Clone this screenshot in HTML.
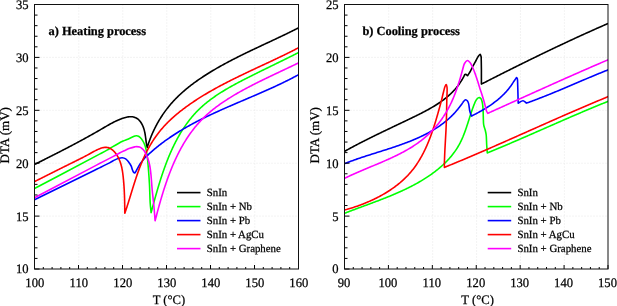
<!DOCTYPE html>
<html><head><meta charset="utf-8"><style>
html,body{margin:0;padding:0;background:#fff;}
svg{display:block;}
.tx{will-change:transform;}
text{font-family:"Liberation Serif",serif;fill:#000;text-rendering:geometricPrecision;stroke:#000;stroke-width:0.25;}
.yl{font-size:13px;text-anchor:end;}
.xl{font-size:13px;text-anchor:middle;}
.al{font-size:13px;text-anchor:middle;}
.tt{font-size:12.4px;font-weight:bold;}
.lt{font-size:11px;}
.cv{fill:none;stroke-width:1.6;stroke-linejoin:round;stroke-linecap:round;}
.lg{fill:none;stroke-width:1.6;}
.tk{fill:none;stroke:#000;stroke-width:1;}
.frame{fill:none;stroke:#111;stroke-width:1;}
.grid{fill:none;stroke:#e2e2e2;stroke-width:0.8;stroke-dasharray:1 2;}
</style></head><body>
<svg width="617" height="306" viewBox="0 0 617 306">
<path d="M78.80,4.50V269.00 M122.80,4.50V269.00 M166.80,4.50V269.00 M210.80,4.50V269.00 M254.80,4.50V269.00 M34.50,216.10H298.50 M34.50,163.20H298.50 M34.50,110.30H298.50 M34.50,57.40H298.50" class="grid"/>
<clipPath id="c34"><rect x="34.50" y="4.50" width="264.00" height="264.50"/></clipPath><g clip-path="url(#c34)">
<path d="M34.50,164.50 L35.33,164.08 L36.16,163.67 L36.99,163.25 L37.82,162.84 L38.65,162.42 L39.48,162.00 L40.31,161.59 L41.14,161.17 L41.97,160.75 L42.81,160.33 L43.63,159.92 L44.46,159.50 L45.29,159.08 L46.12,158.66 L46.95,158.25 L47.78,157.83 L48.61,157.41 L49.44,156.99 L50.27,156.57 L51.10,156.15 L51.93,155.73 L52.75,155.31 L53.58,154.89 L54.41,154.47 L55.24,154.05 L56.06,153.63 L56.89,153.20 L57.72,152.78 L58.54,152.36 L59.37,151.93 L60.20,151.51 L61.02,151.09 L61.85,150.66 L62.67,150.24 L63.49,149.81 L64.32,149.38 L65.14,148.96 L65.97,148.53 L66.79,148.10 L67.61,147.67 L68.43,147.24 L69.26,146.81 L70.08,146.38 L70.90,145.95 L71.72,145.52 L72.54,145.08 L73.36,144.65 L74.18,144.22 L75.00,143.78 L75.82,143.35 L76.64,142.91 L77.45,142.47 L78.27,142.04 L79.09,141.60 L79.91,141.16 L80.72,140.72 L81.54,140.28 L82.35,139.83 L83.17,139.39 L83.98,138.95 L84.79,138.50 L85.61,138.06 L86.42,137.61 L87.23,137.16 L88.04,136.71 L88.85,136.26 L89.66,135.81 L90.47,135.36 L91.28,134.91 L92.09,134.46 L92.89,134.00 L93.70,133.55 L94.51,133.09 L95.31,132.63 L96.12,132.17 L96.92,131.71 L97.73,131.25 L98.53,130.79 L99.33,130.33 L100.13,129.86 L100.93,129.39 L101.73,128.93 L102.53,128.46 L103.33,127.99 L104.13,127.52 L104.93,127.05 L105.73,126.58 L106.54,126.12 L107.34,125.65 L108.15,125.19 L108.96,124.73 L109.78,124.27 L110.60,123.82 L111.42,123.37 L112.25,122.93 L113.09,122.49 L113.93,122.06 L114.78,121.64 L115.64,121.22 L116.51,120.81 L117.38,120.41 L118.26,120.02 L119.16,119.64 L120.06,119.27 L120.97,118.91 L121.88,118.57 L122.80,118.25 L123.72,117.96 L124.64,117.68 L125.55,117.44 L126.46,117.22 L127.37,117.04 L128.26,116.90 L129.15,116.79 L130.02,116.73 L130.88,116.71 L131.73,116.74 L132.55,116.82 L133.36,116.96 L134.14,117.14 L134.90,117.39 L135.64,117.70 L136.35,118.06 L137.03,118.48 L137.69,118.95 L138.33,119.48 L138.93,120.04 L139.51,120.66 L140.07,121.31 L140.60,122.00 L141.10,122.74 L141.57,123.50 L142.02,124.30 L142.44,125.13 L142.83,125.99 L143.20,126.87 L143.53,127.77 L143.84,128.69 L144.12,129.64 L144.37,130.59 L144.60,131.56 L144.81,132.54 L145.00,133.52 L145.17,134.51 L145.33,135.51 L145.47,136.50 L145.61,137.49 L145.73,138.47 L145.86,139.44 L145.98,140.41 L146.10,141.36 L146.23,142.29 L146.36,143.20 L146.50,144.09 L146.66,144.96 L146.82,145.81 L147.00,146.62 L147.20,147.40 L147.21,147.41 L147.50,146.49 L147.79,145.57 L148.09,144.65 L148.40,143.74 L148.71,142.83 L149.03,141.92 L149.36,141.02 L149.69,140.12 L150.03,139.22 L150.37,138.33 L150.73,137.44 L151.08,136.55 L151.45,135.67 L151.82,134.79 L152.19,133.92 L152.57,133.05 L152.96,132.18 L153.36,131.32 L153.76,130.46 L154.17,129.60 L154.58,128.75 L155.00,127.90 L155.43,127.06 L155.86,126.22 L156.30,125.38 L156.74,124.55 L157.19,123.72 L157.65,122.90 L158.11,122.08 L158.58,121.27 L159.06,120.46 L159.54,119.66 L160.03,118.85 L160.52,118.06 L161.02,117.27 L161.52,116.48 L162.04,115.70 L162.55,114.92 L163.08,114.15 L163.61,113.38 L164.14,112.62 L164.68,111.86 L165.23,111.11 L165.78,110.36 L166.34,109.61 L166.91,108.87 L167.48,108.14 L168.05,107.41 L168.63,106.69 L169.22,105.97 L169.82,105.25 L170.41,104.54 L171.02,103.84 L171.63,103.14 L172.25,102.45 L172.87,101.76 L173.49,101.07 L174.13,100.40 L174.76,99.72 L175.41,99.05 L176.05,98.39 L176.71,97.73 L177.36,97.08 L178.03,96.43 L178.69,95.78 L179.37,95.14 L180.04,94.50 L180.73,93.87 L181.41,93.25 L182.10,92.62 L182.80,92.01 L183.50,91.39 L184.20,90.78 L184.91,90.18 L185.62,89.57 L186.33,88.98 L187.05,88.38 L187.78,87.80 L188.50,87.21 L189.24,86.63 L189.97,86.05 L190.71,85.48 L191.45,84.91 L192.19,84.34 L192.94,83.78 L193.69,83.22 L194.45,82.67 L195.21,82.12 L195.97,81.57 L196.73,81.02 L197.50,80.48 L198.27,79.95 L199.04,79.41 L199.81,78.88 L200.59,78.35 L201.37,77.83 L202.15,77.31 L202.94,76.79 L203.73,76.27 L204.51,75.76 L205.31,75.25 L206.10,74.74 L206.89,74.24 L207.69,73.74 L208.49,73.24 L209.29,72.75 L210.09,72.25 L210.90,71.76 L211.70,71.28 L212.51,70.79 L213.32,70.31 L214.13,69.83 L214.94,69.35 L215.76,68.88 L216.57,68.40 L217.39,67.93 L218.21,67.46 L219.03,67.00 L219.85,66.53 L220.67,66.07 L221.49,65.61 L222.32,65.16 L223.15,64.70 L223.97,64.25 L224.80,63.80 L225.63,63.35 L226.46,62.90 L227.30,62.45 L228.13,62.01 L228.96,61.57 L229.80,61.13 L230.64,60.69 L231.47,60.25 L232.31,59.82 L233.15,59.39 L233.99,58.95 L234.83,58.52 L235.68,58.10 L236.52,57.67 L237.36,57.24 L238.21,56.82 L239.05,56.39 L239.90,55.97 L240.75,55.55 L241.59,55.13 L242.44,54.72 L243.29,54.30 L244.14,53.88 L244.99,53.47 L245.84,53.05 L246.69,52.64 L247.55,52.23 L248.40,51.82 L249.25,51.41 L250.10,51.00 L250.96,50.59 L251.81,50.18 L252.66,49.78 L253.52,49.37 L254.37,48.97 L255.23,48.56 L256.08,48.16 L256.94,47.76 L257.79,47.35 L258.65,46.95 L259.50,46.55 L260.36,46.15 L261.21,45.75 L262.07,45.34 L262.93,44.94 L263.78,44.54 L264.64,44.14 L265.49,43.74 L266.35,43.34 L267.20,42.94 L268.06,42.54 L268.91,42.15 L269.77,41.75 L270.62,41.35 L271.48,40.95 L272.33,40.55 L273.18,40.15 L274.04,39.75 L274.89,39.35 L275.74,38.95 L276.59,38.54 L277.44,38.14 L278.30,37.74 L279.15,37.34 L280.00,36.94 L280.84,36.53 L281.69,36.13 L282.54,35.73 L283.39,35.32 L284.23,34.92 L285.08,34.51 L285.93,34.10 L286.77,33.70 L287.61,33.29 L288.46,32.88 L289.30,32.47 L290.14,32.06 L290.98,31.65 L291.82,31.23 L292.66,30.82 L293.49,30.40 L294.33,29.99 L295.16,29.57 L296.00,29.15 L296.83,28.73 L297.66,28.31 L298.49,27.89" stroke="#000" class="cv"/>
<path d="M34.50,188.50 C56.33,176.97 89.25,159.66 100.00,153.90 C103.53,152.01 104.87,151.31 107.00,150.10 C108.82,149.06 110.25,148.12 112.00,147.10 C113.90,145.99 116.07,144.74 118.00,143.70 C119.76,142.75 121.42,141.87 123.10,141.10 C124.68,140.38 126.28,139.85 127.80,139.20 C129.25,138.58 130.72,137.87 132.00,137.30 C133.08,136.82 134.14,136.25 135.00,136.00 C135.60,135.83 136.05,135.73 136.60,135.75 C137.21,135.77 137.91,135.92 138.50,136.20 C139.12,136.49 139.61,136.92 140.20,137.50 C141.02,138.31 142.05,139.59 142.80,140.80 C143.59,142.08 144.25,143.54 144.80,145.00 C145.36,146.48 145.72,147.87 146.10,149.60 C146.58,151.76 146.94,154.18 147.30,157.00 C147.77,160.72 148.14,165.51 148.50,170.00 C148.88,174.82 149.22,179.77 149.50,185.00 C149.80,190.72 149.86,197.94 150.20,203.00 C150.45,206.70 150.80,209.40 151.10,212.60 L151.12,212.60 L151.35,211.74 L151.58,210.87 L151.82,210.00 L152.05,209.14 L152.28,208.26 L152.52,207.39 L152.76,206.52 L152.99,205.65 L153.23,204.77 L153.47,203.89 L153.71,203.02 L153.95,202.14 L154.19,201.26 L154.43,200.38 L154.67,199.49 L154.92,198.61 L155.17,197.73 L155.41,196.84 L155.66,195.96 L155.91,195.08 L156.16,194.19 L156.42,193.30 L156.67,192.42 L156.93,191.53 L157.18,190.64 L157.44,189.76 L157.70,188.87 L157.96,187.98 L158.23,187.09 L158.49,186.20 L158.76,185.32 L159.03,184.43 L159.30,183.54 L159.58,182.65 L159.85,181.77 L160.13,180.88 L160.41,179.99 L160.69,179.11 L160.98,178.22 L161.26,177.34 L161.55,176.45 L161.84,175.57 L162.13,174.69 L162.43,173.80 L162.73,172.92 L163.03,172.04 L163.33,171.16 L163.64,170.28 L163.95,169.41 L164.26,168.53 L164.57,167.65 L164.89,166.78 L165.21,165.91 L165.53,165.03 L165.85,164.16 L166.18,163.30 L166.51,162.43 L166.85,161.56 L167.18,160.70 L167.52,159.84 L167.87,158.97 L168.21,158.12 L168.56,157.26 L168.91,156.40 L169.27,155.55 L169.63,154.70 L169.99,153.85 L170.36,153.00 L170.73,152.16 L171.10,151.31 L171.48,150.47 L171.86,149.63 L172.24,148.80 L172.63,147.96 L173.02,147.13 L173.42,146.31 L173.82,145.48 L174.22,144.66 L174.63,143.84 L175.04,143.02 L175.46,142.20 L175.88,141.39 L176.30,140.58 L176.73,139.78 L177.16,138.97 L177.59,138.17 L178.03,137.38 L178.48,136.58 L178.93,135.79 L179.38,135.00 L179.84,134.22 L180.30,133.44 L180.77,132.66 L181.24,131.89 L181.72,131.12 L182.20,130.36 L182.68,129.59 L183.17,128.84 L183.67,128.08 L184.17,127.33 L184.67,126.58 L185.18,125.84 L185.70,125.10 L186.22,124.37 L186.74,123.64 L187.27,122.91 L187.81,122.19 L188.35,121.47 L188.89,120.76 L189.44,120.05 L190.00,119.35 L190.56,118.65 L191.13,117.95 L191.70,117.26 L192.28,116.58 L192.86,115.89 L193.45,115.22 L194.05,114.55 L194.65,113.88 L195.25,113.22 L195.86,112.56 L196.48,111.91 L197.10,111.27 L197.73,110.63 L198.37,109.99 L199.01,109.36 L199.66,108.74 L200.31,108.12 L200.97,107.50 L201.64,106.90 L202.31,106.29 L202.98,105.69 L203.66,105.10 L204.35,104.51 L205.04,103.93 L205.74,103.35 L206.44,102.78 L207.15,102.21 L207.86,101.64 L208.58,101.08 L209.30,100.53 L210.03,99.97 L210.76,99.43 L211.50,98.88 L212.24,98.35 L212.98,97.81 L213.73,97.28 L214.48,96.76 L215.24,96.23 L216.00,95.71 L216.76,95.20 L217.53,94.69 L218.30,94.18 L219.07,93.68 L219.85,93.18 L220.63,92.68 L221.41,92.19 L222.20,91.70 L222.99,91.21 L223.78,90.73 L224.58,90.25 L225.37,89.77 L226.18,89.29 L226.98,88.82 L227.78,88.35 L228.59,87.89 L229.40,87.42 L230.21,86.96 L231.03,86.51 L231.84,86.05 L232.66,85.60 L233.48,85.15 L234.30,84.70 L235.12,84.25 L235.94,83.81 L236.77,83.36 L237.59,82.92 L238.42,82.48 L239.24,82.05 L240.07,81.61 L240.90,81.18 L241.73,80.75 L242.56,80.32 L243.39,79.89 L244.22,79.46 L245.06,79.04 L245.89,78.61 L246.72,78.19 L247.55,77.77 L248.38,77.35 L249.21,76.93 L250.04,76.51 L250.87,76.09 L251.71,75.68 L252.54,75.26 L253.37,74.85 L254.20,74.43 L255.03,74.02 L255.86,73.61 L256.69,73.20 L257.52,72.79 L258.35,72.38 L259.18,71.97 L260.00,71.56 L260.83,71.15 L261.66,70.75 L262.49,70.34 L263.32,69.93 L264.14,69.53 L264.97,69.12 L265.80,68.72 L266.62,68.32 L267.45,67.91 L268.28,67.51 L269.10,67.11 L269.93,66.71 L270.75,66.30 L271.58,65.90 L272.40,65.50 L273.22,65.10 L274.05,64.70 L274.87,64.30 L275.69,63.90 L276.51,63.50 L277.33,63.09 L278.15,62.69 L278.98,62.29 L279.79,61.89 L280.61,61.49 L281.43,61.09 L282.25,60.69 L283.07,60.29 L283.89,59.89 L284.70,59.49 L285.52,59.08 L286.33,58.68 L287.15,58.28 L287.96,57.88 L288.78,57.47 L289.59,57.07 L290.40,56.66 L291.21,56.26 L292.02,55.85 L292.84,55.45 L293.65,55.04 L294.45,54.64 L295.26,54.23 L296.07,53.82 L296.88,53.41 L297.68,53.00 L298.49,52.59" stroke="#00ff00" class="cv"/>
<path d="M34.50,199.80 C54.53,189.93 85.36,174.70 94.60,170.20 C97.37,168.85 97.93,168.62 100.00,167.60 C102.83,166.21 107.27,164.04 110.00,162.60 C111.93,161.58 113.34,160.65 114.90,159.90 C116.25,159.25 117.52,158.67 118.80,158.30 C119.98,157.96 121.15,157.60 122.30,157.70 C123.45,157.80 124.68,158.24 125.70,158.90 C126.80,159.60 127.72,160.79 128.60,161.90 C129.53,163.07 130.45,164.43 131.10,165.80 C131.74,167.14 132.06,168.87 132.50,170.00 C132.81,170.80 133.06,171.51 133.40,172.00 C133.65,172.36 133.89,172.72 134.20,172.80 C134.50,172.87 134.87,172.76 135.20,172.50 C135.84,172.00 136.43,170.40 137.10,169.20 C137.88,167.80 138.72,165.95 139.60,164.60 C140.36,163.43 141.16,162.59 142.00,161.50 C142.95,160.28 143.94,158.75 145.00,157.60 C145.98,156.54 147.07,155.73 148.10,154.80 L148.09,154.80 L148.78,154.16 L149.47,153.53 L150.17,152.90 L150.86,152.28 L151.56,151.66 L152.26,151.04 L152.97,150.43 L153.67,149.83 L154.38,149.23 L155.10,148.63 L155.81,148.04 L156.53,147.45 L157.25,146.86 L157.97,146.28 L158.70,145.71 L159.42,145.13 L160.15,144.56 L160.89,144.00 L161.62,143.44 L162.36,142.88 L163.10,142.33 L163.84,141.78 L164.58,141.23 L165.33,140.69 L166.08,140.15 L166.83,139.62 L167.58,139.09 L168.34,138.56 L169.09,138.03 L169.85,137.51 L170.62,136.99 L171.38,136.48 L172.14,135.97 L172.91,135.46 L173.68,134.96 L174.45,134.46 L175.23,133.96 L176.00,133.46 L176.78,132.97 L177.56,132.48 L178.34,132.00 L179.12,131.52 L179.91,131.04 L180.70,130.56 L181.49,130.09 L182.28,129.61 L183.07,129.15 L183.86,128.68 L184.66,128.22 L185.45,127.76 L186.25,127.30 L187.05,126.85 L187.86,126.40 L188.66,125.95 L189.46,125.50 L190.27,125.05 L191.08,124.61 L191.89,124.17 L192.70,123.74 L193.51,123.30 L194.33,122.87 L195.14,122.44 L195.96,122.01 L196.78,121.58 L197.60,121.16 L198.42,120.74 L199.24,120.32 L200.06,119.90 L200.89,119.49 L201.71,119.07 L202.54,118.66 L203.37,118.25 L204.19,117.84 L205.02,117.44 L205.86,117.03 L206.69,116.63 L207.52,116.23 L208.36,115.83 L209.19,115.43 L210.03,115.03 L210.86,114.64 L211.70,114.25 L212.54,113.85 L213.38,113.46 L214.22,113.07 L215.06,112.69 L215.90,112.30 L216.75,111.92 L217.59,111.53 L218.44,111.15 L219.28,110.77 L220.13,110.39 L220.97,110.01 L221.82,109.63 L222.67,109.25 L223.52,108.88 L224.37,108.50 L225.21,108.13 L226.06,107.75 L226.92,107.38 L227.77,107.01 L228.62,106.64 L229.47,106.27 L230.32,105.90 L231.17,105.53 L232.03,105.16 L232.88,104.79 L233.73,104.42 L234.59,104.06 L235.44,103.69 L236.30,103.32 L237.15,102.96 L238.00,102.59 L238.86,102.23 L239.71,101.86 L240.57,101.50 L241.42,101.13 L242.28,100.77 L243.13,100.40 L243.99,100.04 L244.85,99.68 L245.70,99.31 L246.56,98.95 L247.41,98.58 L248.27,98.22 L249.12,97.85 L249.98,97.49 L250.83,97.12 L251.68,96.76 L252.54,96.39 L253.39,96.03 L254.25,95.66 L255.10,95.29 L255.95,94.93 L256.81,94.56 L257.66,94.19 L258.51,93.82 L259.36,93.45 L260.21,93.08 L261.06,92.71 L261.91,92.34 L262.76,91.97 L263.61,91.60 L264.46,91.22 L265.31,90.85 L266.16,90.47 L267.00,90.10 L267.85,89.72 L268.70,89.34 L269.54,88.96 L270.39,88.58 L271.23,88.20 L272.07,87.81 L272.91,87.43 L273.76,87.04 L274.60,86.66 L275.44,86.27 L276.27,85.88 L277.11,85.49 L277.95,85.10 L278.78,84.70 L279.62,84.31 L280.45,83.91 L281.29,83.51 L282.12,83.11 L282.95,82.71 L283.78,82.31 L284.61,81.90 L285.44,81.49 L286.26,81.09 L287.09,80.68 L287.91,80.26 L288.73,79.85 L289.56,79.43 L290.38,79.01 L291.19,78.59 L292.01,78.17 L292.83,77.75 L293.64,77.32 L294.46,76.89 L295.27,76.46 L296.08,76.03 L296.89,75.59 L297.70,75.15 L298.50,74.71" stroke="#0000ff" class="cv"/>
<path d="M34.50,181.60 L35.30,181.20 L36.11,180.80 L36.92,180.39 L37.73,179.99 L38.54,179.58 L39.36,179.17 L40.18,178.76 L40.99,178.35 L41.81,177.94 L42.64,177.53 L43.46,177.12 L44.28,176.70 L45.11,176.29 L45.94,175.87 L46.76,175.46 L47.59,175.04 L48.42,174.62 L49.25,174.21 L50.08,173.79 L50.91,173.37 L51.75,172.95 L52.58,172.54 L53.41,172.12 L54.24,171.70 L55.07,171.28 L55.90,170.87 L56.73,170.45 L57.57,170.03 L58.40,169.62 L59.22,169.20 L60.05,168.79 L60.88,168.37 L61.71,167.96 L62.53,167.55 L63.36,167.14 L64.18,166.73 L65.00,166.32 L65.82,165.91 L66.64,165.50 L67.46,165.10 L68.27,164.69 L69.09,164.29 L69.90,163.89 L70.71,163.49 L71.51,163.10 L72.32,162.70 L73.12,162.31 L73.92,161.91 L74.72,161.52 L75.52,161.13 L76.31,160.74 L77.11,160.34 L77.91,159.94 L78.71,159.55 L79.51,159.15 L80.32,158.74 L81.12,158.34 L81.93,157.92 L82.74,157.51 L83.55,157.09 L84.37,156.66 L85.19,156.23 L86.02,155.79 L86.85,155.35 L87.69,154.90 L88.53,154.44 L89.38,153.97 L90.24,153.49 L91.10,153.01 L91.97,152.53 L92.84,152.04 L93.72,151.56 L94.59,151.09 L95.47,150.64 L96.35,150.19 L97.22,149.77 L98.10,149.37 L98.97,148.99 L99.83,148.65 L100.69,148.34 L101.55,148.06 L102.40,147.83 L103.24,147.64 L104.07,147.50 L104.89,147.41 L105.70,147.38 L106.49,147.40 L107.28,147.49 L108.05,147.64 L108.80,147.86 L109.54,148.14 L110.26,148.48 L110.97,148.88 L111.65,149.33 L112.32,149.83 L112.98,150.38 L113.61,150.97 L114.23,151.61 L114.82,152.28 L115.39,152.98 L115.95,153.72 L116.48,154.49 L116.99,155.28 L117.48,156.09 L117.95,156.92 L118.39,157.77 L118.81,158.63 L119.20,159.49 L119.57,160.37 L119.92,161.25 L120.24,162.13 L120.54,163.02 L120.82,163.92 L121.08,164.82 L121.32,165.72 L121.54,166.62 L121.75,167.53 L121.94,168.44 L122.12,169.35 L122.28,170.26 L122.44,171.18 L122.58,172.09 L122.71,173.01 L122.83,173.93 L122.95,174.85 L123.06,175.76 L123.16,176.68 L123.26,177.60 L123.35,178.51 L123.45,179.43 L123.53,180.34 L123.61,181.25 L123.69,182.17 L123.77,183.08 L123.84,183.99 L123.91,184.90 L123.97,185.81 L124.03,186.72 L124.09,187.63 L124.15,188.54 L124.20,189.45 L124.25,190.36 L124.29,191.28 L124.33,192.19 L124.37,193.10 L124.41,194.01 L124.45,194.92 L124.48,195.83 L124.51,196.74 L124.54,197.65 L124.57,198.57 L124.59,199.48 L124.62,200.40 L124.64,201.31 L124.66,202.23 L124.67,203.14 L124.69,204.06 L124.71,204.98 L124.72,205.90 L124.73,206.82 L124.74,207.74 L124.76,208.66 L124.77,209.59 L124.77,210.51 L124.78,211.44 L124.79,212.37 L124.80,213.30 L124.80,213.30 L125.11,212.43 L125.40,211.55 L125.70,210.67 L125.99,209.79 L126.29,208.91 L126.58,208.03 L126.87,207.14 L127.15,206.25 L127.44,205.35 L127.73,204.46 L128.01,203.56 L128.29,202.66 L128.58,201.76 L128.86,200.86 L129.14,199.96 L129.42,199.05 L129.70,198.14 L129.98,197.24 L130.26,196.33 L130.54,195.41 L130.82,194.50 L131.10,193.59 L131.38,192.68 L131.66,191.76 L131.94,190.85 L132.23,189.93 L132.51,189.01 L132.79,188.10 L133.08,187.18 L133.37,186.26 L133.65,185.35 L133.94,184.43 L134.23,183.51 L134.53,182.60 L134.82,181.68 L135.12,180.77 L135.41,179.85 L135.72,178.94 L136.02,178.02 L136.32,177.11 L136.63,176.20 L136.94,175.29 L137.25,174.38 L137.57,173.47 L137.89,172.56 L138.21,171.66 L138.54,170.75 L138.87,169.85 L139.20,168.95 L139.54,168.05 L139.87,167.16 L140.22,166.26 L140.57,165.37 L140.92,164.48 L141.27,163.59 L141.63,162.71 L142.00,161.83 L142.37,160.95 L142.74,160.07 L143.12,159.19 L143.51,158.32 L143.89,157.46 L144.29,156.59 L144.69,155.73 L145.09,154.87 L145.50,154.02 L145.92,153.17 L146.34,152.32 L146.77,151.48 L147.20,150.64 L147.64,149.80 L148.09,148.97 L148.54,148.14 L149.00,147.32 L149.46,146.50 L149.93,145.68 L150.40,144.87 L150.89,144.06 L151.37,143.26 L151.87,142.46 L152.37,141.67 L152.87,140.88 L153.38,140.09 L153.90,139.31 L154.42,138.54 L154.95,137.76 L155.49,137.00 L156.03,136.24 L156.58,135.48 L157.13,134.73 L157.69,133.98 L158.25,133.23 L158.83,132.50 L159.40,131.76 L159.99,131.03 L160.58,130.31 L161.17,129.59 L161.78,128.88 L162.38,128.17 L163.00,127.47 L163.62,126.77 L164.25,126.08 L164.88,125.40 L165.52,124.71 L166.16,124.04 L166.81,123.37 L167.47,122.70 L168.13,122.04 L168.79,121.38 L169.47,120.73 L170.14,120.09 L170.83,119.44 L171.51,118.81 L172.20,118.17 L172.90,117.54 L173.60,116.92 L174.31,116.30 L175.01,115.69 L175.73,115.08 L176.45,114.47 L177.17,113.87 L177.89,113.27 L178.62,112.67 L179.36,112.08 L180.09,111.49 L180.83,110.91 L181.58,110.33 L182.32,109.76 L183.07,109.18 L183.82,108.62 L184.58,108.05 L185.34,107.49 L186.10,106.93 L186.86,106.38 L187.62,105.82 L188.39,105.28 L189.16,104.73 L189.93,104.19 L190.71,103.65 L191.49,103.11 L192.27,102.58 L193.05,102.05 L193.83,101.52 L194.62,101.00 L195.41,100.48 L196.20,99.96 L196.99,99.45 L197.79,98.93 L198.58,98.42 L199.38,97.92 L200.18,97.41 L200.98,96.91 L201.79,96.41 L202.60,95.91 L203.40,95.42 L204.21,94.93 L205.03,94.44 L205.84,93.95 L206.66,93.47 L207.47,92.99 L208.29,92.51 L209.11,92.03 L209.94,91.56 L210.76,91.08 L211.58,90.61 L212.41,90.14 L213.24,89.68 L214.07,89.21 L214.90,88.75 L215.73,88.29 L216.57,87.83 L217.40,87.38 L218.24,86.92 L219.08,86.47 L219.92,86.02 L220.76,85.57 L221.60,85.13 L222.44,84.68 L223.29,84.24 L224.13,83.80 L224.98,83.36 L225.83,82.92 L226.68,82.48 L227.53,82.05 L228.38,81.61 L229.23,81.18 L230.08,80.75 L230.93,80.32 L231.79,79.89 L232.64,79.46 L233.50,79.04 L234.35,78.61 L235.21,78.19 L236.07,77.77 L236.93,77.35 L237.79,76.93 L238.65,76.51 L239.51,76.09 L240.37,75.68 L241.23,75.26 L242.09,74.85 L242.95,74.43 L243.81,74.02 L244.68,73.61 L245.54,73.20 L246.40,72.78 L247.27,72.37 L248.13,71.97 L249.00,71.56 L249.86,71.15 L250.72,70.74 L251.59,70.34 L252.45,69.93 L253.32,69.52 L254.18,69.12 L255.05,68.71 L255.91,68.31 L256.78,67.90 L257.64,67.50 L258.51,67.10 L259.37,66.69 L260.24,66.29 L261.10,65.89 L261.97,65.49 L262.83,65.08 L263.69,64.68 L264.56,64.28 L265.42,63.87 L266.28,63.47 L267.15,63.07 L268.01,62.67 L268.87,62.26 L269.73,61.86 L270.59,61.46 L271.45,61.05 L272.31,60.65 L273.17,60.24 L274.03,59.84 L274.88,59.43 L275.74,59.03 L276.59,58.62 L277.45,58.22 L278.30,57.81 L279.16,57.40 L280.01,56.99 L280.86,56.58 L281.71,56.17 L282.56,55.76 L283.41,55.35 L284.26,54.94 L285.10,54.53 L285.95,54.11 L286.79,53.70 L287.64,53.28 L288.48,52.87 L289.32,52.45 L290.16,52.03 L291.00,51.61 L291.84,51.19 L292.67,50.77 L293.51,50.35 L294.34,49.92 L295.17,49.50 L296.00,49.07 L296.83,48.64 L297.66,48.21 L298.48,47.78" stroke="#ff0000" class="cv"/>
<path d="M34.50,197.80 C52.17,188.50 75.95,175.99 87.50,169.90 C93.11,166.94 96.06,165.36 100.00,163.30 C103.52,161.46 107.24,159.54 110.00,158.10 C111.95,157.08 113.34,156.38 115.00,155.50 C116.67,154.61 118.33,153.64 120.00,152.80 C121.63,151.98 123.26,151.25 124.90,150.50 C126.53,149.75 128.14,148.90 129.80,148.30 C131.41,147.71 133.42,147.18 134.70,146.90 C135.51,146.73 135.97,146.59 136.70,146.60 C137.58,146.61 138.70,146.77 139.60,147.10 C140.50,147.43 141.32,147.95 142.10,148.60 C142.97,149.32 143.84,150.34 144.50,151.30 C145.13,152.21 145.52,153.17 146.00,154.20 C146.52,155.33 147.03,156.59 147.50,157.80 C147.97,159.02 148.41,160.13 148.80,161.50 C149.26,163.14 149.66,164.99 150.00,167.00 C150.41,169.41 150.68,171.91 151.00,175.00 C151.43,179.22 151.73,185.00 152.20,190.00 C152.67,195.00 153.32,199.94 153.80,205.00 C154.29,210.17 154.67,215.47 155.10,220.70 L155.12,220.70 L155.34,219.83 L155.57,218.95 L155.80,218.08 L156.03,217.20 L156.26,216.32 L156.49,215.44 L156.72,214.56 L156.95,213.68 L157.19,212.80 L157.42,211.91 L157.66,211.03 L157.90,210.14 L158.14,209.26 L158.38,208.37 L158.62,207.49 L158.87,206.60 L159.11,205.71 L159.36,204.82 L159.61,203.94 L159.86,203.05 L160.11,202.16 L160.37,201.27 L160.63,200.38 L160.88,199.49 L161.14,198.60 L161.41,197.72 L161.67,196.83 L161.94,195.94 L162.20,195.05 L162.47,194.16 L162.75,193.27 L163.02,192.39 L163.30,191.50 L163.58,190.61 L163.86,189.72 L164.14,188.84 L164.43,187.95 L164.71,187.07 L165.01,186.18 L165.30,185.30 L165.59,184.42 L165.89,183.54 L166.19,182.66 L166.50,181.78 L166.80,180.90 L167.11,180.02 L167.42,179.14 L167.74,178.27 L168.05,177.39 L168.37,176.52 L168.70,175.65 L169.02,174.78 L169.35,173.91 L169.68,173.04 L170.02,172.17 L170.35,171.31 L170.69,170.44 L171.04,169.58 L171.38,168.72 L171.74,167.86 L172.09,167.01 L172.45,166.15 L172.81,165.30 L173.17,164.45 L173.54,163.60 L173.91,162.75 L174.28,161.91 L174.66,161.07 L175.04,160.23 L175.42,159.39 L175.81,158.55 L176.20,157.72 L176.60,156.89 L177.00,156.06 L177.40,155.23 L177.81,154.41 L178.22,153.59 L178.63,152.77 L179.05,151.95 L179.48,151.14 L179.90,150.33 L180.33,149.52 L180.77,148.72 L181.21,147.92 L181.65,147.12 L182.10,146.32 L182.55,145.53 L183.01,144.74 L183.47,143.95 L183.93,143.17 L184.40,142.39 L184.87,141.61 L185.35,140.84 L185.83,140.07 L186.32,139.30 L186.81,138.54 L187.31,137.78 L187.81,137.03 L188.32,136.28 L188.83,135.53 L189.34,134.78 L189.86,134.04 L190.39,133.31 L190.92,132.57 L191.45,131.85 L191.99,131.12 L192.53,130.40 L193.08,129.69 L193.64,128.97 L194.20,128.27 L194.76,127.56 L195.33,126.86 L195.91,126.17 L196.49,125.48 L197.08,124.79 L197.67,124.11 L198.27,123.43 L198.87,122.76 L199.48,122.09 L200.09,121.43 L200.71,120.77 L201.33,120.12 L201.96,119.47 L202.60,118.83 L203.24,118.19 L203.89,117.56 L204.54,116.93 L205.20,116.30 L205.86,115.69 L206.53,115.07 L207.20,114.46 L207.88,113.86 L208.56,113.25 L209.25,112.66 L209.94,112.07 L210.64,111.48 L211.34,110.89 L212.05,110.31 L212.76,109.74 L213.47,109.17 L214.19,108.60 L214.92,108.04 L215.64,107.48 L216.38,106.93 L217.11,106.37 L217.85,105.83 L218.59,105.28 L219.34,104.74 L220.09,104.21 L220.85,103.68 L221.60,103.15 L222.36,102.62 L223.13,102.10 L223.90,101.58 L224.67,101.07 L225.44,100.56 L226.22,100.05 L227.00,99.55 L227.78,99.04 L228.57,98.55 L229.35,98.05 L230.14,97.56 L230.94,97.07 L231.73,96.58 L232.53,96.10 L233.33,95.62 L234.13,95.14 L234.94,94.67 L235.74,94.20 L236.55,93.73 L237.36,93.26 L238.17,92.80 L238.99,92.34 L239.80,91.88 L240.62,91.42 L241.44,90.97 L242.26,90.51 L243.08,90.06 L243.90,89.62 L244.72,89.17 L245.55,88.73 L246.37,88.29 L247.20,87.85 L248.02,87.41 L248.85,86.98 L249.68,86.54 L250.51,86.11 L251.34,85.68 L252.17,85.25 L253.00,84.83 L253.83,84.40 L254.66,83.98 L255.49,83.56 L256.32,83.14 L257.16,82.72 L257.99,82.31 L258.82,81.89 L259.66,81.48 L260.49,81.07 L261.33,80.66 L262.16,80.25 L263.00,79.84 L263.83,79.43 L264.67,79.03 L265.50,78.62 L266.33,78.22 L267.17,77.82 L268.00,77.41 L268.84,77.01 L269.67,76.61 L270.51,76.22 L271.34,75.82 L272.17,75.42 L273.01,75.02 L273.84,74.63 L274.67,74.23 L275.51,73.84 L276.34,73.45 L277.17,73.05 L278.00,72.66 L278.83,72.27 L279.66,71.88 L280.49,71.49 L281.32,71.09 L282.14,70.70 L282.97,70.31 L283.80,69.92 L284.62,69.53 L285.45,69.14 L286.27,68.75 L287.09,68.36 L287.91,67.97 L288.73,67.58 L289.55,67.19 L290.37,66.80 L291.19,66.41 L292.01,66.02 L292.82,65.63 L293.63,65.24 L294.45,64.85 L295.26,64.46 L296.07,64.07 L296.88,63.68 L297.68,63.28 L298.49,62.89" stroke="#ff00ff" class="cv"/>
</g>
<path d="M43.30,269.00v-2 M52.10,269.00v-2 M60.90,269.00v-2 M69.70,269.00v-2 M87.30,269.00v-2 M96.10,269.00v-2 M104.90,269.00v-2 M113.70,269.00v-2 M131.30,269.00v-2 M140.10,269.00v-2 M148.90,269.00v-2 M157.70,269.00v-2 M175.30,269.00v-2 M184.10,269.00v-2 M192.90,269.00v-2 M201.70,269.00v-2 M219.30,269.00v-2 M228.10,269.00v-2 M236.90,269.00v-2 M245.70,269.00v-2 M263.30,269.00v-2 M272.10,269.00v-2 M280.90,269.00v-2 M289.70,269.00v-2 M34.50,269.00v-4 M78.50,269.00v-4 M122.50,269.00v-4 M166.50,269.00v-4 M210.50,269.00v-4 M254.50,269.00v-4 M298.50,269.00v-4 M34.50,258.42h3 M34.50,247.84h3 M34.50,237.26h3 M34.50,226.68h3 M34.50,205.52h3 M34.50,194.94h3 M34.50,184.36h3 M34.50,173.78h3 M34.50,152.62h3 M34.50,142.04h3 M34.50,131.46h3 M34.50,120.88h3 M34.50,99.72h3 M34.50,89.14h3 M34.50,78.56h3 M34.50,67.98h3 M34.50,46.82h3 M34.50,36.24h3 M34.50,25.66h3 M34.50,15.08h3 M34.50,269.00h5 M34.50,216.10h5 M34.50,163.20h5 M34.50,110.30h5 M34.50,57.40h5 M34.50,4.50h5" class="tk"/>
<rect x="34.50" y="4.50" width="264.00" height="264.50" class="frame"/>
<path d="M177.00,192.60H200.50" stroke="#000" class="lg"/>
<path d="M177.00,206.60H200.50" stroke="#00ff00" class="lg"/>
<path d="M177.00,220.60H200.50" stroke="#0000ff" class="lg"/>
<path d="M177.00,234.60H200.50" stroke="#ff0000" class="lg"/>
<path d="M177.00,248.60H200.50" stroke="#ff00ff" class="lg"/>
<g class="tx"><text transform="translate(28.60,273.40) scale(0.970,1)" class="yl">10</text>
<text transform="translate(28.60,220.50) scale(0.970,1)" class="yl">15</text>
<text transform="translate(28.60,167.60) scale(0.970,1)" class="yl">20</text>
<text transform="translate(28.60,114.70) scale(0.970,1)" class="yl">25</text>
<text transform="translate(28.60,61.80) scale(0.970,1)" class="yl">30</text>
<text transform="translate(28.60,8.90) scale(0.970,1)" class="yl">35</text>
<text transform="translate(34.80,286.70) scale(0.970,1)" class="xl">100</text>
<text transform="translate(78.80,286.70) scale(0.970,1)" class="xl">110</text>
<text transform="translate(122.80,286.70) scale(0.970,1)" class="xl">120</text>
<text transform="translate(166.80,286.70) scale(0.970,1)" class="xl">130</text>
<text transform="translate(210.80,286.70) scale(0.970,1)" class="xl">140</text>
<text transform="translate(254.80,286.70) scale(0.970,1)" class="xl">150</text>
<text transform="translate(298.80,286.70) scale(0.970,1)" class="xl">160</text>
<text x="48.50" y="34.80" class="tt">a) Heating process</text>
<text transform="translate(168.90,303.80) scale(0.970,1)" class="xl">T (°C)</text>
<text transform="translate(8.50,135.30) rotate(-90)" class="al">DTA (mV)</text>
<text transform="translate(206.70,196.20) scale(0.985,1)" class="lt">SnIn</text>
<text transform="translate(206.70,210.20) scale(0.985,1)" class="lt">SnIn + Nb</text>
<text transform="translate(206.70,224.20) scale(0.985,1)" class="lt">SnIn + Pb</text>
<text transform="translate(206.70,238.20) scale(0.985,1)" class="lt">SnIn + AgCu</text>
<text transform="translate(206.70,252.20) scale(0.985,1)" class="lt">SnIn + Graphene</text></g>
<path d="M388.72,4.50V269.00 M432.63,4.50V269.00 M476.55,4.50V269.00 M520.47,4.50V269.00 M564.38,4.50V269.00 M344.50,216.10H608.00 M344.50,163.20H608.00 M344.50,110.30H608.00 M344.50,57.40H608.00" class="grid"/>
<clipPath id="c344"><rect x="344.50" y="4.50" width="263.50" height="264.50"/></clipPath><g clip-path="url(#c344)">
<path d="M344.51,151.41 L345.31,150.95 L346.12,150.50 L346.93,150.05 L347.74,149.60 L348.55,149.15 L349.36,148.71 L350.18,148.26 L350.99,147.82 L351.81,147.38 L352.62,146.94 L353.44,146.50 L354.26,146.07 L355.08,145.63 L355.90,145.20 L356.72,144.77 L357.54,144.33 L358.36,143.91 L359.19,143.48 L360.01,143.05 L360.83,142.62 L361.66,142.20 L362.49,141.78 L363.31,141.35 L364.14,140.93 L364.97,140.51 L365.80,140.09 L366.63,139.68 L367.46,139.26 L368.29,138.84 L369.13,138.43 L369.96,138.01 L370.79,137.60 L371.63,137.19 L372.46,136.77 L373.30,136.36 L374.13,135.95 L374.97,135.54 L375.81,135.13 L376.64,134.73 L377.48,134.32 L378.32,133.91 L379.16,133.50 L380.00,133.10 L380.84,132.69 L381.68,132.29 L382.52,131.88 L383.36,131.48 L384.20,131.08 L385.04,130.67 L385.89,130.27 L386.73,129.87 L387.57,129.46 L388.41,129.06 L389.26,128.66 L390.10,128.26 L390.95,127.85 L391.79,127.45 L392.63,127.05 L393.48,126.65 L394.32,126.25 L395.17,125.84 L396.01,125.44 L396.86,125.04 L397.71,124.64 L398.55,124.23 L399.40,123.83 L400.24,123.43 L401.09,123.03 L401.94,122.62 L402.78,122.22 L403.63,121.81 L404.47,121.41 L405.32,121.01 L406.17,120.60 L407.01,120.19 L407.86,119.79 L408.70,119.38 L409.55,118.97 L410.40,118.57 L411.24,118.16 L412.09,117.75 L412.93,117.34 L413.78,116.93 L414.62,116.52 L415.47,116.10 L416.31,115.69 L417.15,115.27 L417.99,114.86 L418.83,114.44 L419.67,114.02 L420.51,113.59 L421.35,113.17 L422.18,112.74 L423.01,112.31 L423.85,111.88 L424.67,111.45 L425.50,111.01 L426.32,110.57 L427.14,110.12 L427.96,109.68 L428.78,109.23 L429.59,108.77 L430.40,108.31 L431.20,107.85 L432.00,107.38 L432.80,106.91 L433.60,106.44 L434.39,105.96 L435.17,105.48 L435.96,104.99 L436.73,104.49 L437.51,103.99 L438.27,103.49 L439.04,102.98 L439.80,102.47 L440.55,101.94 L441.30,101.42 L442.04,100.88 L442.78,100.35 L443.51,99.80 L444.23,99.25 L444.95,98.69 L445.66,98.12 L446.37,97.55 L447.07,96.97 L447.76,96.39 L448.45,95.79 L449.13,95.19 L449.80,94.58 L450.46,93.97 L451.12,93.34 L451.77,92.71 L452.41,92.07 L453.05,91.42 L453.67,90.76 L454.29,90.09 L454.90,89.42 L455.50,88.73 L456.10,88.04 L456.68,87.34 L457.26,86.63 L457.82,85.90 L458.38,85.17 L458.93,84.43 L459.47,83.68 L459.99,82.92 L460.51,82.15 L461.02,81.36 L461.52,80.57 L462.01,79.77 L462.49,78.95 L462.95,78.12 L463.41,77.29 L463.86,76.44 L464.29,75.58 L464.71,74.71 L464.70,74.70 C465.03,74.53 465.33,74.16 465.70,74.20 C466.25,74.26 466.97,75.20 467.60,75.70 L467.60,75.70 C468.60,74.07 469.69,72.44 470.60,70.80 C471.48,69.21 472.14,67.65 473.00,66.00 C473.93,64.22 475.04,62.24 476.00,60.50 C476.87,58.92 477.67,57.10 478.50,56.00 C479.07,55.25 479.76,54.20 480.20,54.30 C480.68,54.41 480.87,56.10 481.20,57.00 L481.20,57.00 C481.27,61.33 481.37,65.58 481.40,70.00 C481.44,74.60 481.40,79.40 481.40,84.10 L481.40,84.10 L482.26,83.66 L483.11,83.22 L483.97,82.78 L484.83,82.34 L485.69,81.91 L486.55,81.47 L487.41,81.03 L488.27,80.60 L489.13,80.16 L489.99,79.72 L490.84,79.29 L491.70,78.85 L492.56,78.41 L493.42,77.98 L494.28,77.54 L495.14,77.11 L496.00,76.67 L496.87,76.24 L497.73,75.80 L498.59,75.37 L499.45,74.93 L500.31,74.50 L501.17,74.07 L502.03,73.63 L502.89,73.20 L503.75,72.77 L504.62,72.33 L505.48,71.90 L506.34,71.47 L507.20,71.04 L508.07,70.60 L508.93,70.17 L509.79,69.74 L510.65,69.31 L511.52,68.88 L512.38,68.45 L513.24,68.02 L514.11,67.59 L514.97,67.16 L515.83,66.73 L516.70,66.30 L517.56,65.87 L518.43,65.44 L519.29,65.01 L520.16,64.58 L521.02,64.16 L521.89,63.73 L522.75,63.30 L523.62,62.87 L524.48,62.45 L525.35,62.02 L526.21,61.60 L527.08,61.17 L527.95,60.74 L528.81,60.32 L529.68,59.89 L530.55,59.47 L531.41,59.05 L532.28,58.62 L533.15,58.20 L534.02,57.77 L534.88,57.35 L535.75,56.93 L536.62,56.51 L537.49,56.08 L538.36,55.66 L539.22,55.24 L540.09,54.82 L540.96,54.40 L541.83,53.98 L542.70,53.56 L543.57,53.14 L544.44,52.72 L545.31,52.30 L546.18,51.89 L547.05,51.47 L547.92,51.05 L548.79,50.63 L549.66,50.22 L550.53,49.80 L551.41,49.38 L552.28,48.97 L553.15,48.55 L554.02,48.14 L554.89,47.72 L555.76,47.31 L556.64,46.89 L557.51,46.48 L558.38,46.07 L559.26,45.66 L560.13,45.24 L561.00,44.83 L561.88,44.42 L562.75,44.01 L563.62,43.60 L564.50,43.19 L565.37,42.78 L566.25,42.37 L567.12,41.96 L568.00,41.56 L568.87,41.15 L569.75,40.74 L570.63,40.33 L571.50,39.93 L572.38,39.52 L573.25,39.12 L574.13,38.71 L575.01,38.31 L575.88,37.90 L576.76,37.50 L577.64,37.09 L578.52,36.69 L579.40,36.29 L580.27,35.89 L581.15,35.49 L582.03,35.09 L582.91,34.69 L583.79,34.29 L584.67,33.89 L585.55,33.49 L586.43,33.09 L587.31,32.69 L588.19,32.29 L589.07,31.90 L589.95,31.50 L590.83,31.11 L591.71,30.71 L592.59,30.32 L593.48,29.92 L594.36,29.53 L595.24,29.13 L596.12,28.74 L597.00,28.35 L597.89,27.96 L598.77,27.57 L599.65,27.18 L600.54,26.79 L601.42,26.40 L602.31,26.01 L603.19,25.62 L604.07,25.23 L604.96,24.85 L605.84,24.46 L606.73,24.07 L607.62,23.69 L608.50,23.30" stroke="#000" class="cv"/>
<path d="M344.51,213.31 L345.35,212.98 L346.20,212.65 L347.05,212.32 L347.90,211.99 L348.76,211.67 L349.61,211.34 L350.47,211.02 L351.33,210.69 L352.19,210.37 L353.05,210.04 L353.91,209.72 L354.77,209.40 L355.64,209.08 L356.50,208.76 L357.37,208.43 L358.24,208.11 L359.11,207.79 L359.98,207.47 L360.85,207.15 L361.72,206.83 L362.59,206.51 L363.46,206.18 L364.34,205.86 L365.21,205.54 L366.09,205.22 L366.96,204.89 L367.84,204.57 L368.71,204.25 L369.59,203.92 L370.47,203.60 L371.34,203.27 L372.22,202.94 L373.10,202.61 L373.98,202.29 L374.85,201.96 L375.73,201.62 L376.61,201.29 L377.49,200.96 L378.36,200.63 L379.24,200.29 L380.12,199.95 L380.99,199.62 L381.87,199.28 L382.74,198.93 L383.62,198.59 L384.49,198.25 L385.37,197.90 L386.24,197.55 L387.11,197.20 L387.98,196.85 L388.85,196.50 L389.72,196.14 L390.59,195.79 L391.46,195.43 L392.33,195.07 L393.19,194.70 L394.06,194.34 L394.92,193.97 L395.78,193.60 L396.64,193.22 L397.50,192.85 L398.36,192.47 L399.22,192.09 L400.07,191.71 L400.93,191.32 L401.78,190.93 L402.63,190.54 L403.48,190.14 L404.32,189.75 L405.17,189.35 L406.01,188.94 L406.85,188.54 L407.69,188.13 L408.53,187.71 L409.36,187.30 L410.19,186.87 L411.02,186.45 L411.85,186.02 L412.68,185.59 L413.50,185.16 L414.32,184.72 L415.14,184.28 L415.96,183.83 L416.77,183.38 L417.58,182.93 L418.39,182.47 L419.19,182.01 L420.00,181.55 L420.79,181.08 L421.59,180.60 L422.38,180.13 L423.18,179.64 L423.96,179.16 L424.75,178.67 L425.53,178.17 L426.31,177.67 L427.08,177.16 L427.85,176.66 L428.62,176.14 L429.38,175.62 L430.14,175.10 L430.90,174.57 L431.65,174.04 L432.40,173.50 L433.15,172.95 L433.89,172.40 L434.63,171.85 L435.36,171.29 L436.09,170.73 L436.81,170.16 L437.53,169.58 L438.24,169.00 L438.95,168.41 L439.65,167.82 L440.35,167.23 L441.04,166.62 L441.73,166.01 L442.41,165.40 L443.09,164.78 L443.75,164.15 L444.42,163.52 L445.07,162.89 L445.72,162.24 L446.37,161.59 L447.00,160.94 L447.63,160.28 L448.25,159.61 L448.87,158.94 L449.48,158.26 L450.08,157.57 L450.67,156.88 L451.26,156.18 L451.84,155.47 L452.40,154.76 L452.97,154.04 L453.52,153.32 L454.06,152.59 L454.60,151.85 L455.13,151.11 L455.65,150.35 L456.16,149.60 L456.66,148.83 L457.15,148.06 L457.64,147.28 L458.11,146.49 L458.57,145.70 L459.03,144.90 L459.47,144.09 L459.90,143.28 L460.33,142.46 L460.74,141.63 L461.15,140.79 L461.54,139.95 L461.93,139.10 L462.31,138.25 L462.68,137.39 L463.05,136.53 L463.40,135.66 L463.75,134.79 L464.09,133.91 L464.43,133.03 L464.76,132.14 L465.09,131.25 L465.41,130.36 L465.72,129.47 L466.03,128.57 L466.34,127.67 L466.64,126.77 L466.94,125.87 L467.24,124.96 L467.54,124.06 L467.83,123.15 L468.12,122.25 L468.41,121.34 L468.70,120.44 L468.99,119.53 L469.27,118.63 L469.56,117.73 L469.85,116.83 L470.14,115.93 L470.42,115.03 L470.72,114.13 L471.01,113.24 L471.30,112.35 L471.60,111.47 L471.90,110.58 L472.20,109.70 L472.51,108.83 L472.82,107.96 L473.14,107.10 L473.46,106.24 L473.78,105.38 L474.11,104.53 L474.45,103.69 L474.79,102.85 L475.14,102.02 L475.50,101.20 L475.50,101.20 C476.00,100.47 476.49,99.58 477.00,99.00 C477.40,98.54 477.78,98.13 478.20,97.90 C478.55,97.71 478.93,97.58 479.30,97.60 C479.70,97.63 480.15,97.79 480.50,98.10 C480.95,98.50 481.29,99.25 481.60,100.00 C482.00,100.97 482.26,102.14 482.50,103.50 C482.82,105.32 482.97,107.79 483.10,110.00 C483.24,112.29 483.20,114.60 483.30,117.00 C483.40,119.53 483.31,122.48 483.70,124.80 C484.02,126.73 484.78,128.27 485.20,130.00 C485.61,131.67 485.96,133.04 486.20,135.00 C486.54,137.75 486.50,141.86 486.70,145.00 C486.88,147.79 487.10,150.27 487.30,152.90 L487.30,152.90 L488.20,152.53 L489.11,152.16 L490.01,151.79 L490.91,151.42 L491.82,151.05 L492.72,150.68 L493.62,150.31 L494.52,149.94 L495.42,149.56 L496.33,149.19 L497.23,148.81 L498.13,148.44 L499.03,148.06 L499.93,147.69 L500.83,147.31 L501.73,146.93 L502.63,146.55 L503.53,146.17 L504.43,145.79 L505.33,145.41 L506.22,145.03 L507.12,144.65 L508.02,144.27 L508.92,143.89 L509.82,143.51 L510.71,143.12 L511.61,142.74 L512.51,142.35 L513.41,141.97 L514.30,141.59 L515.20,141.20 L516.10,140.81 L516.99,140.43 L517.89,140.04 L518.78,139.65 L519.68,139.27 L520.58,138.88 L521.47,138.49 L522.37,138.10 L523.26,137.71 L524.16,137.32 L525.05,136.93 L525.95,136.54 L526.84,136.15 L527.74,135.76 L528.63,135.37 L529.53,134.98 L530.42,134.59 L531.32,134.20 L532.21,133.81 L533.10,133.42 L534.00,133.03 L534.89,132.64 L535.79,132.24 L536.68,131.85 L537.57,131.46 L538.47,131.07 L539.36,130.68 L540.26,130.28 L541.15,129.89 L542.04,129.50 L542.94,129.11 L543.83,128.71 L544.72,128.32 L545.62,127.93 L546.51,127.54 L547.41,127.14 L548.30,126.75 L549.19,126.36 L550.09,125.97 L550.98,125.57 L551.88,125.18 L552.77,124.79 L553.66,124.40 L554.56,124.01 L555.45,123.61 L556.35,123.22 L557.24,122.83 L558.13,122.44 L559.03,122.05 L559.92,121.66 L560.82,121.27 L561.71,120.88 L562.61,120.49 L563.50,120.10 L564.40,119.71 L565.29,119.32 L566.19,118.93 L567.08,118.54 L567.98,118.15 L568.87,117.76 L569.77,117.38 L570.67,116.99 L571.56,116.60 L572.46,116.21 L573.35,115.83 L574.25,115.44 L575.15,115.06 L576.05,114.67 L576.94,114.29 L577.84,113.90 L578.74,113.52 L579.63,113.14 L580.53,112.75 L581.43,112.37 L582.33,111.99 L583.23,111.61 L584.13,111.23 L585.03,110.85 L585.92,110.47 L586.82,110.09 L587.72,109.71 L588.62,109.33 L589.52,108.96 L590.43,108.58 L591.33,108.20 L592.23,107.83 L593.13,107.45 L594.03,107.08 L594.93,106.71 L595.83,106.33 L596.74,105.96 L597.64,105.59 L598.54,105.22 L599.45,104.85 L600.35,104.48 L601.25,104.11 L602.16,103.75 L603.06,103.38 L603.97,103.01 L604.87,102.65 L605.78,102.29 L606.69,101.92 L607.59,101.56 L608.50,101.20" stroke="#00ff00" class="cv"/>
<path d="M344.51,163.71 L345.37,163.37 L346.23,163.02 L347.09,162.68 L347.96,162.35 L348.82,162.01 L349.69,161.68 L350.57,161.36 L351.45,161.03 L352.32,160.71 L353.21,160.39 L354.09,160.07 L354.98,159.75 L355.87,159.44 L356.76,159.13 L357.65,158.82 L358.55,158.51 L359.44,158.21 L360.34,157.90 L361.24,157.60 L362.15,157.30 L363.05,157.00 L363.96,156.70 L364.87,156.40 L365.77,156.11 L366.69,155.81 L367.60,155.52 L368.51,155.22 L369.42,154.93 L370.34,154.64 L371.26,154.35 L372.17,154.05 L373.09,153.76 L374.01,153.47 L374.93,153.18 L375.85,152.89 L376.77,152.60 L377.69,152.31 L378.62,152.02 L379.54,151.73 L380.46,151.44 L381.38,151.15 L382.31,150.86 L383.23,150.56 L384.15,150.27 L385.08,149.98 L386.00,149.68 L386.92,149.39 L387.84,149.09 L388.77,148.79 L389.69,148.49 L390.61,148.19 L391.53,147.89 L392.45,147.58 L393.37,147.28 L394.28,146.97 L395.20,146.66 L396.12,146.35 L397.03,146.04 L397.94,145.72 L398.86,145.40 L399.77,145.08 L400.68,144.76 L401.59,144.44 L402.49,144.11 L403.40,143.78 L404.30,143.45 L405.20,143.11 L406.10,142.78 L407.00,142.43 L407.90,142.09 L408.79,141.74 L409.68,141.39 L410.57,141.04 L411.46,140.68 L412.35,140.32 L413.23,139.95 L414.11,139.58 L414.99,139.21 L415.86,138.83 L416.74,138.45 L417.61,138.07 L418.47,137.68 L419.34,137.29 L420.20,136.89 L421.05,136.49 L421.91,136.08 L422.76,135.67 L423.61,135.25 L424.45,134.83 L425.29,134.41 L426.13,133.97 L426.97,133.54 L427.80,133.10 L428.62,132.65 L429.45,132.20 L430.26,131.74 L431.08,131.28 L431.89,130.81 L432.70,130.33 L433.50,129.85 L434.30,129.37 L435.09,128.87 L435.88,128.38 L436.67,127.87 L437.45,127.36 L438.22,126.84 L438.99,126.32 L439.76,125.79 L440.52,125.25 L441.28,124.70 L442.03,124.15 L442.77,123.60 L443.52,123.03 L444.25,122.46 L444.98,121.88 L445.71,121.29 L446.43,120.70 L447.14,120.10 L447.85,119.49 L448.55,118.87 L449.25,118.24 L449.94,117.61 L450.62,116.97 L451.30,116.32 L451.98,115.66 L452.64,115.00 L453.30,114.32 L453.96,113.64 L454.61,112.95 L455.25,112.25 L455.88,111.54 L456.51,110.83 L457.13,110.10 L457.75,109.37 L458.35,108.62 L458.96,107.87 L459.55,107.11 L460.14,106.33 L460.72,105.55 L461.29,104.76 L461.86,103.96 L462.41,103.15 L462.97,102.33 L463.51,101.50 L463.50,101.50 C464.23,100.90 465.00,99.72 465.70,99.70 C466.32,99.68 467.03,100.41 467.50,101.00 C468.03,101.67 468.28,102.49 468.60,103.60 C469.12,105.41 469.27,108.78 469.80,111.00 C470.24,112.88 470.87,114.40 471.40,116.10 L471.40,116.10 L472.19,115.70 L472.98,115.31 L473.77,114.90 L474.56,114.50 L475.34,114.09 L476.13,113.68 L476.92,113.26 L477.70,112.85 L478.48,112.42 L479.26,112.00 L480.04,111.57 L480.81,111.13 L481.59,110.69 L482.36,110.25 L483.13,109.80 L483.89,109.35 L484.66,108.89 L485.42,108.43 L486.17,107.96 L486.93,107.49 L487.68,107.02 L488.42,106.53 L489.16,106.05 L489.90,105.55 L490.64,105.06 L491.37,104.55 L492.09,104.04 L492.81,103.53 L493.53,103.01 L494.24,102.48 L494.95,101.95 L495.65,101.41 L496.35,100.87 L497.04,100.32 L497.72,99.76 L498.40,99.20 L499.07,98.62 L499.74,98.05 L500.40,97.46 L501.05,96.87 L501.70,96.27 L502.34,95.67 L502.98,95.05 L503.60,94.43 L504.22,93.81 L504.83,93.17 L505.44,92.53 L506.04,91.88 L506.62,91.22 L507.21,90.55 L507.78,89.88 L508.34,89.20 L508.90,88.51 L509.45,87.81 L509.99,87.10 L510.52,86.38 L511.04,85.66 L511.55,84.92 L512.05,84.18 L512.54,83.43 L513.03,82.67 L513.50,81.90 L513.50,81.90 C514.27,80.80 515.23,79.40 515.80,78.60 C516.13,78.13 516.34,77.50 516.60,77.50 C516.84,77.50 517.12,77.98 517.30,78.50 C517.72,79.69 517.60,82.79 517.70,85.00 C517.80,87.29 517.83,89.39 517.90,92.00 C517.99,95.30 518.10,99.47 518.20,103.20 L518.20,103.20 C519.80,102.37 521.55,100.61 523.00,100.70 C524.28,100.78 525.33,102.30 526.50,103.10 L526.50,103.10 L527.40,102.78 L528.29,102.46 L529.19,102.13 L530.09,101.81 L530.98,101.48 L531.87,101.15 L532.77,100.82 L533.66,100.49 L534.55,100.16 L535.44,99.82 L536.33,99.48 L537.22,99.15 L538.11,98.81 L539.00,98.46 L539.89,98.12 L540.78,97.78 L541.67,97.43 L542.55,97.08 L543.44,96.73 L544.32,96.38 L545.21,96.03 L546.09,95.68 L546.98,95.33 L547.86,94.97 L548.74,94.62 L549.62,94.26 L550.51,93.90 L551.39,93.54 L552.27,93.18 L553.15,92.82 L554.03,92.46 L554.91,92.10 L555.79,91.73 L556.67,91.37 L557.55,91.00 L558.43,90.64 L559.31,90.27 L560.19,89.90 L561.06,89.53 L561.94,89.16 L562.82,88.80 L563.70,88.43 L564.57,88.06 L565.45,87.68 L566.33,87.31 L567.20,86.94 L568.08,86.57 L568.96,86.20 L569.83,85.83 L570.71,85.45 L571.59,85.08 L572.46,84.71 L573.34,84.33 L574.21,83.96 L575.09,83.59 L575.97,83.21 L576.84,82.84 L577.72,82.47 L578.59,82.09 L579.47,81.72 L580.35,81.35 L581.22,80.98 L582.10,80.60 L582.97,80.23 L583.85,79.86 L584.73,79.49 L585.60,79.12 L586.48,78.74 L587.36,78.37 L588.24,78.00 L589.11,77.63 L589.99,77.26 L590.87,76.90 L591.75,76.53 L592.63,76.16 L593.50,75.79 L594.38,75.43 L595.26,75.06 L596.14,74.70 L597.02,74.34 L597.90,73.97 L598.78,73.61 L599.66,73.25 L600.55,72.89 L601.43,72.53 L602.31,72.17 L603.19,71.82 L604.08,71.46 L604.96,71.11 L605.84,70.75 L606.73,70.40 L607.61,70.05 L608.50,69.70" stroke="#0000ff" class="cv"/>
<path d="M344.49,210.09 L345.39,209.84 L346.28,209.58 L347.18,209.33 L348.07,209.06 L348.97,208.80 L349.86,208.53 L350.76,208.25 L351.65,207.97 L352.55,207.68 L353.44,207.39 L354.33,207.10 L355.22,206.80 L356.12,206.50 L357.01,206.19 L357.89,205.88 L358.78,205.56 L359.67,205.24 L360.55,204.91 L361.43,204.58 L362.32,204.24 L363.20,203.90 L364.07,203.55 L364.95,203.20 L365.82,202.84 L366.70,202.48 L367.57,202.11 L368.44,201.74 L369.30,201.36 L370.16,200.98 L371.03,200.60 L371.88,200.20 L372.74,199.81 L373.59,199.41 L374.44,199.00 L375.29,198.59 L376.13,198.17 L376.97,197.74 L377.81,197.32 L378.65,196.88 L379.48,196.44 L380.30,196.00 L381.13,195.55 L381.95,195.09 L382.76,194.63 L383.58,194.17 L384.38,193.70 L385.19,193.22 L385.99,192.74 L386.79,192.25 L387.58,191.76 L388.36,191.26 L389.15,190.75 L389.93,190.24 L390.70,189.73 L391.47,189.21 L392.23,188.68 L392.99,188.14 L393.74,187.61 L394.49,187.06 L395.24,186.51 L395.97,185.96 L396.71,185.39 L397.43,184.83 L398.16,184.25 L398.87,183.67 L399.58,183.09 L400.28,182.49 L400.98,181.90 L401.68,181.29 L402.36,180.68 L403.04,180.07 L403.71,179.45 L404.38,178.82 L405.04,178.19 L405.69,177.55 L406.34,176.90 L406.98,176.25 L407.62,175.59 L408.24,174.92 L408.86,174.25 L409.47,173.57 L410.08,172.89 L410.68,172.20 L411.27,171.50 L411.85,170.80 L412.42,170.09 L412.99,169.38 L413.55,168.65 L414.10,167.93 L414.65,167.19 L415.18,166.45 L415.71,165.71 L416.24,164.95 L416.75,164.20 L417.26,163.43 L417.77,162.67 L418.26,161.89 L418.75,161.11 L419.23,160.33 L419.71,159.54 L420.18,158.75 L420.64,157.95 L421.10,157.15 L421.55,156.34 L422.00,155.53 L422.44,154.71 L422.87,153.89 L423.30,153.07 L423.72,152.24 L424.13,151.40 L424.54,150.57 L424.95,149.73 L425.35,148.88 L425.74,148.04 L426.13,147.19 L426.52,146.33 L426.90,145.47 L427.27,144.61 L427.64,143.75 L428.00,142.89 L428.36,142.02 L428.72,141.14 L429.07,140.27 L429.42,139.39 L429.76,138.51 L430.10,137.63 L430.43,136.75 L430.76,135.87 L431.08,134.98 L431.41,134.09 L431.72,133.20 L432.04,132.31 L432.35,131.41 L432.65,130.52 L432.96,129.62 L433.26,128.72 L433.55,127.82 L433.85,126.92 L434.14,126.02 L434.43,125.12 L434.71,124.22 L434.99,123.32 L435.27,122.41 L435.55,121.51 L435.82,120.61 L436.09,119.70 L436.36,118.80 L436.62,117.89 L436.89,116.99 L437.15,116.09 L437.41,115.18 L437.67,114.28 L437.92,113.38 L438.17,112.48 L438.43,111.58 L438.68,110.68 L438.93,109.78 L439.17,108.88 L439.42,107.99 L439.66,107.09 L439.91,106.20 L440.15,105.31 L440.39,104.42 L440.63,103.53 L440.87,102.64 L441.11,101.76 L441.34,100.87 L441.58,99.99 L441.60,100.00 C442.23,97.33 442.88,94.41 443.50,92.00 C444.01,89.99 444.42,87.83 445.00,86.50 C445.37,85.67 445.87,84.56 446.20,84.60 C446.55,84.64 446.82,85.86 447.00,87.00 C447.40,89.58 446.88,95.20 446.80,100.00 C446.69,105.95 446.57,114.48 446.40,120.00 C446.28,123.91 446.19,126.10 446.00,130.00 C445.74,135.52 445.18,144.05 444.90,150.00 C444.68,154.80 444.46,159.81 444.40,163.00 C444.36,164.85 444.40,165.93 444.40,167.40 L444.40,167.40 L445.28,167.04 L446.16,166.68 L447.04,166.32 L447.92,165.96 L448.80,165.60 L449.68,165.24 L450.56,164.88 L451.44,164.52 L452.32,164.16 L453.20,163.79 L454.08,163.43 L454.96,163.07 L455.84,162.70 L456.72,162.34 L457.59,161.97 L458.47,161.61 L459.35,161.24 L460.23,160.87 L461.10,160.51 L461.98,160.14 L462.86,159.77 L463.73,159.40 L464.61,159.03 L465.49,158.66 L466.36,158.29 L467.24,157.92 L468.11,157.55 L468.99,157.18 L469.87,156.81 L470.74,156.44 L471.62,156.06 L472.49,155.69 L473.36,155.32 L474.24,154.94 L475.11,154.57 L475.99,154.19 L476.86,153.82 L477.73,153.44 L478.61,153.07 L479.48,152.69 L480.36,152.31 L481.23,151.94 L482.10,151.56 L482.97,151.18 L483.85,150.80 L484.72,150.43 L485.59,150.05 L486.46,149.67 L487.34,149.29 L488.21,148.91 L489.08,148.53 L489.95,148.15 L490.82,147.77 L491.69,147.39 L492.57,147.01 L493.44,146.63 L494.31,146.25 L495.18,145.86 L496.05,145.48 L496.92,145.10 L497.79,144.72 L498.66,144.33 L499.53,143.95 L500.40,143.57 L501.27,143.19 L502.14,142.80 L503.01,142.42 L503.88,142.04 L504.75,141.65 L505.62,141.27 L506.49,140.88 L507.36,140.50 L508.23,140.11 L509.10,139.73 L509.97,139.34 L510.84,138.96 L511.71,138.57 L512.58,138.19 L513.45,137.80 L514.32,137.42 L515.19,137.03 L516.06,136.65 L516.93,136.26 L517.80,135.88 L518.67,135.49 L519.54,135.10 L520.41,134.72 L521.27,134.33 L522.14,133.95 L523.01,133.56 L523.88,133.17 L524.75,132.79 L525.62,132.40 L526.49,132.01 L527.36,131.63 L528.23,131.24 L529.10,130.85 L529.96,130.47 L530.83,130.08 L531.70,129.70 L532.57,129.31 L533.44,128.92 L534.31,128.54 L535.18,128.15 L536.05,127.76 L536.92,127.38 L537.79,126.99 L538.65,126.61 L539.52,126.22 L540.39,125.83 L541.26,125.45 L542.13,125.06 L543.00,124.68 L543.87,124.29 L544.74,123.91 L545.61,123.52 L546.48,123.14 L547.35,122.75 L548.22,122.37 L549.09,121.98 L549.96,121.60 L550.83,121.21 L551.70,120.83 L552.57,120.44 L553.44,120.06 L554.31,119.68 L555.18,119.29 L556.05,118.91 L556.92,118.53 L557.79,118.14 L558.66,117.76 L559.53,117.38 L560.40,117.00 L561.27,116.61 L562.14,116.23 L563.01,115.85 L563.88,115.47 L564.75,115.09 L565.62,114.71 L566.49,114.33 L567.37,113.95 L568.24,113.57 L569.11,113.19 L569.98,112.81 L570.85,112.43 L571.72,112.05 L572.60,111.67 L573.47,111.29 L574.34,110.91 L575.21,110.54 L576.09,110.16 L576.96,109.78 L577.83,109.41 L578.71,109.03 L579.58,108.65 L580.45,108.28 L581.33,107.90 L582.20,107.53 L583.07,107.15 L583.95,106.78 L584.82,106.41 L585.70,106.03 L586.57,105.66 L587.44,105.29 L588.32,104.92 L589.19,104.55 L590.07,104.17 L590.95,103.80 L591.82,103.43 L592.70,103.06 L593.57,102.69 L594.45,102.33 L595.33,101.96 L596.20,101.59 L597.08,101.22 L597.96,100.86 L598.83,100.49 L599.71,100.12 L600.59,99.76 L601.47,99.39 L602.34,99.03 L603.22,98.66 L604.10,98.30 L604.98,97.94 L605.86,97.58 L606.74,97.22 L607.62,96.85 L608.50,96.49" stroke="#ff0000" class="cv"/>
<path d="M344.51,178.40 L345.33,177.99 L346.15,177.59 L346.98,177.18 L347.81,176.78 L348.65,176.39 L349.49,175.99 L350.33,175.60 L351.17,175.21 L352.02,174.82 L352.87,174.43 L353.72,174.05 L354.57,173.66 L355.43,173.28 L356.29,172.90 L357.15,172.53 L358.01,172.15 L358.88,171.77 L359.75,171.40 L360.62,171.03 L361.49,170.66 L362.36,170.29 L363.24,169.92 L364.11,169.55 L364.99,169.18 L365.87,168.81 L366.75,168.44 L367.63,168.07 L368.51,167.71 L369.39,167.34 L370.27,166.97 L371.16,166.61 L372.04,166.24 L372.92,165.87 L373.81,165.50 L374.69,165.13 L375.58,164.76 L376.46,164.39 L377.35,164.02 L378.23,163.65 L379.12,163.27 L380.00,162.90 L380.89,162.52 L381.77,162.15 L382.65,161.77 L383.53,161.39 L384.41,161.00 L385.29,160.62 L386.17,160.23 L387.05,159.85 L387.93,159.45 L388.80,159.06 L389.67,158.67 L390.55,158.27 L391.42,157.87 L392.28,157.47 L393.15,157.06 L394.02,156.65 L394.88,156.24 L395.74,155.83 L396.60,155.41 L397.45,154.99 L398.31,154.56 L399.16,154.13 L400.00,153.70 L400.85,153.27 L401.69,152.83 L402.53,152.38 L403.37,151.94 L404.20,151.49 L405.03,151.03 L405.86,150.57 L406.68,150.10 L407.50,149.63 L408.32,149.16 L409.13,148.68 L409.94,148.20 L410.74,147.71 L411.54,147.21 L412.34,146.72 L413.13,146.21 L413.92,145.70 L414.70,145.18 L415.48,144.66 L416.25,144.14 L417.02,143.60 L417.79,143.06 L418.55,142.52 L419.30,141.97 L420.05,141.41 L420.79,140.85 L421.53,140.28 L422.26,139.70 L422.99,139.12 L423.71,138.53 L424.43,137.93 L425.14,137.32 L425.84,136.71 L426.54,136.10 L427.24,135.47 L427.92,134.84 L428.61,134.21 L429.28,133.56 L429.95,132.91 L430.61,132.26 L431.27,131.59 L431.92,130.93 L432.57,130.25 L433.21,129.57 L433.84,128.89 L434.47,128.19 L435.09,127.49 L435.70,126.79 L436.31,126.08 L436.91,125.36 L437.50,124.64 L438.09,123.91 L438.68,123.18 L439.25,122.44 L439.82,121.70 L440.38,120.95 L440.94,120.19 L441.49,119.43 L442.03,118.67 L442.56,117.90 L443.09,117.12 L443.62,116.34 L444.13,115.55 L444.64,114.76 L445.14,113.96 L445.63,113.16 L446.12,112.35 L446.60,111.54 L447.08,110.72 L447.54,109.90 L448.00,109.08 L448.45,108.25 L448.90,107.41 L449.33,106.57 L449.76,105.73 L450.19,104.88 L450.60,104.02 L451.01,103.17 L451.42,102.31 L451.81,101.44 L452.20,100.57 L452.59,99.70 L452.97,98.83 L453.34,97.95 L453.70,97.07 L454.06,96.18 L454.42,95.30 L454.77,94.41 L455.11,93.52 L455.45,92.63 L455.78,91.73 L456.11,90.83 L456.43,89.93 L456.75,89.03 L457.06,88.13 L457.37,87.23 L457.68,86.32 L457.97,85.42 L458.27,84.51 L458.56,83.60 L458.85,82.69 L459.13,81.79 L459.41,80.88 L459.68,79.97 L459.95,79.06 L460.22,78.15 L460.49,77.24 L460.75,76.33 L461.01,75.42 L461.26,74.52 L461.51,73.61 L461.76,72.71 L462.01,71.80 L462.25,70.90 L462.49,70.00 L462.50,70.00 C463.17,67.83 463.53,65.17 464.50,63.50 C465.25,62.20 466.33,60.59 467.30,60.50 C468.17,60.42 469.20,61.59 470.00,62.50 C470.99,63.63 471.69,65.27 472.50,67.00 C473.53,69.19 474.54,72.03 475.50,74.70 C476.51,77.52 477.53,80.78 478.40,83.50 C479.14,85.83 479.72,87.88 480.40,90.00 C481.06,92.04 481.74,93.88 482.40,96.00 C483.14,98.35 483.92,100.99 484.60,103.50 C485.28,105.99 485.80,109.25 486.50,111.00 C486.91,112.02 487.37,112.53 487.80,113.30 L487.80,113.30 L488.68,112.90 L489.56,112.51 L490.44,112.11 L491.32,111.71 L492.20,111.32 L493.08,110.92 L493.96,110.53 L494.84,110.13 L495.71,109.73 L496.59,109.34 L497.47,108.94 L498.35,108.54 L499.23,108.15 L500.11,107.75 L500.99,107.36 L501.87,106.96 L502.75,106.56 L503.63,106.17 L504.51,105.77 L505.39,105.37 L506.26,104.98 L507.14,104.58 L508.02,104.18 L508.90,103.79 L509.78,103.39 L510.66,102.99 L511.54,102.60 L512.42,102.20 L513.30,101.80 L514.17,101.40 L515.05,101.01 L515.93,100.61 L516.81,100.21 L517.69,99.82 L518.57,99.42 L519.45,99.02 L520.33,98.63 L521.20,98.23 L522.08,97.83 L522.96,97.44 L523.84,97.04 L524.72,96.64 L525.60,96.25 L526.48,95.85 L527.36,95.45 L528.24,95.06 L529.11,94.66 L529.99,94.26 L530.87,93.87 L531.75,93.47 L532.63,93.08 L533.51,92.68 L534.39,92.28 L535.27,91.89 L536.15,91.49 L537.03,91.10 L537.90,90.70 L538.78,90.31 L539.66,89.91 L540.54,89.51 L541.42,89.12 L542.30,88.72 L543.18,88.33 L544.06,87.93 L544.94,87.54 L545.82,87.14 L546.70,86.75 L547.58,86.36 L548.46,85.96 L549.34,85.57 L550.22,85.17 L551.10,84.78 L551.98,84.38 L552.86,83.99 L553.74,83.60 L554.62,83.20 L555.50,82.81 L556.38,82.42 L557.26,82.02 L558.14,81.63 L559.02,81.24 L559.90,80.85 L560.78,80.45 L561.66,80.06 L562.54,79.67 L563.42,79.28 L564.30,78.89 L565.18,78.49 L566.07,78.10 L566.95,77.71 L567.83,77.32 L568.71,76.93 L569.59,76.54 L570.47,76.15 L571.35,75.76 L572.24,75.37 L573.12,74.98 L574.00,74.59 L574.88,74.20 L575.77,73.81 L576.65,73.42 L577.53,73.03 L578.41,72.65 L579.30,72.26 L580.18,71.87 L581.06,71.48 L581.94,71.09 L582.83,70.71 L583.71,70.32 L584.59,69.93 L585.48,69.55 L586.36,69.16 L587.24,68.77 L588.13,68.39 L589.01,68.00 L589.90,67.62 L590.78,67.23 L591.67,66.85 L592.55,66.46 L593.44,66.08 L594.32,65.70 L595.21,65.31 L596.09,64.93 L596.98,64.55 L597.86,64.16 L598.75,63.78 L599.63,63.40 L600.52,63.02 L601.40,62.64 L602.29,62.26 L603.18,61.88 L604.06,61.50 L604.95,61.12 L605.84,60.74 L606.72,60.36 L607.61,59.98 L608.50,59.60" stroke="#ff00ff" class="cv"/>
</g>
<path d="M353.28,269.00v-2 M362.07,269.00v-2 M370.85,269.00v-2 M379.63,269.00v-2 M397.20,269.00v-2 M405.98,269.00v-2 M414.77,269.00v-2 M423.55,269.00v-2 M441.12,269.00v-2 M449.90,269.00v-2 M458.68,269.00v-2 M467.47,269.00v-2 M485.03,269.00v-2 M493.82,269.00v-2 M502.60,269.00v-2 M511.38,269.00v-2 M528.95,269.00v-2 M537.73,269.00v-2 M546.52,269.00v-2 M555.30,269.00v-2 M572.87,269.00v-2 M581.65,269.00v-2 M590.43,269.00v-2 M599.22,269.00v-2 M344.50,269.00v-4 M388.42,269.00v-4 M432.33,269.00v-4 M476.25,269.00v-4 M520.17,269.00v-4 M564.08,269.00v-4 M608.00,269.00v-4 M344.50,258.42h3 M344.50,247.84h3 M344.50,237.26h3 M344.50,226.68h3 M344.50,205.52h3 M344.50,194.94h3 M344.50,184.36h3 M344.50,173.78h3 M344.50,152.62h3 M344.50,142.04h3 M344.50,131.46h3 M344.50,120.88h3 M344.50,99.72h3 M344.50,89.14h3 M344.50,78.56h3 M344.50,67.98h3 M344.50,46.82h3 M344.50,36.24h3 M344.50,25.66h3 M344.50,15.08h3 M344.50,269.00h5 M344.50,216.10h5 M344.50,163.20h5 M344.50,110.30h5 M344.50,57.40h5 M344.50,4.50h5" class="tk"/>
<rect x="344.50" y="4.50" width="263.50" height="264.50" class="frame"/>
<path d="M487.70,192.60H511.20" stroke="#000" class="lg"/>
<path d="M487.70,206.60H511.20" stroke="#00ff00" class="lg"/>
<path d="M487.70,220.60H511.20" stroke="#0000ff" class="lg"/>
<path d="M487.70,234.60H511.20" stroke="#ff0000" class="lg"/>
<path d="M487.70,248.60H511.20" stroke="#ff00ff" class="lg"/>
<g class="tx"><text transform="translate(338.60,273.40) scale(0.970,1)" class="yl">0</text>
<text transform="translate(338.60,220.50) scale(0.970,1)" class="yl">5</text>
<text transform="translate(338.60,167.60) scale(0.970,1)" class="yl">10</text>
<text transform="translate(338.60,114.70) scale(0.970,1)" class="yl">15</text>
<text transform="translate(338.60,61.80) scale(0.970,1)" class="yl">20</text>
<text transform="translate(338.60,8.90) scale(0.970,1)" class="yl">25</text>
<text transform="translate(344.00,286.70) scale(0.970,1)" class="xl">90</text>
<text transform="translate(387.92,286.70) scale(0.970,1)" class="xl">100</text>
<text transform="translate(431.83,286.70) scale(0.970,1)" class="xl">110</text>
<text transform="translate(475.75,286.70) scale(0.970,1)" class="xl">120</text>
<text transform="translate(519.67,286.70) scale(0.970,1)" class="xl">130</text>
<text transform="translate(563.58,286.70) scale(0.970,1)" class="xl">140</text>
<text transform="translate(607.50,286.70) scale(0.970,1)" class="xl">150</text>
<text x="362.40" y="34.80" class="tt">b) Cooling process</text>
<text transform="translate(477.60,303.80) scale(0.970,1)" class="xl">T (°C)</text>
<text transform="translate(318.50,135.30) rotate(-90)" class="al">DTA (mV)</text>
<text transform="translate(517.40,196.20) scale(0.985,1)" class="lt">SnIn</text>
<text transform="translate(517.40,210.20) scale(0.985,1)" class="lt">SnIn + Nb</text>
<text transform="translate(517.40,224.20) scale(0.985,1)" class="lt">SnIn + Pb</text>
<text transform="translate(517.40,238.20) scale(0.985,1)" class="lt">SnIn + AgCu</text>
<text transform="translate(517.40,252.20) scale(0.985,1)" class="lt">SnIn + Graphene</text></g>
</svg>
</body></html>
